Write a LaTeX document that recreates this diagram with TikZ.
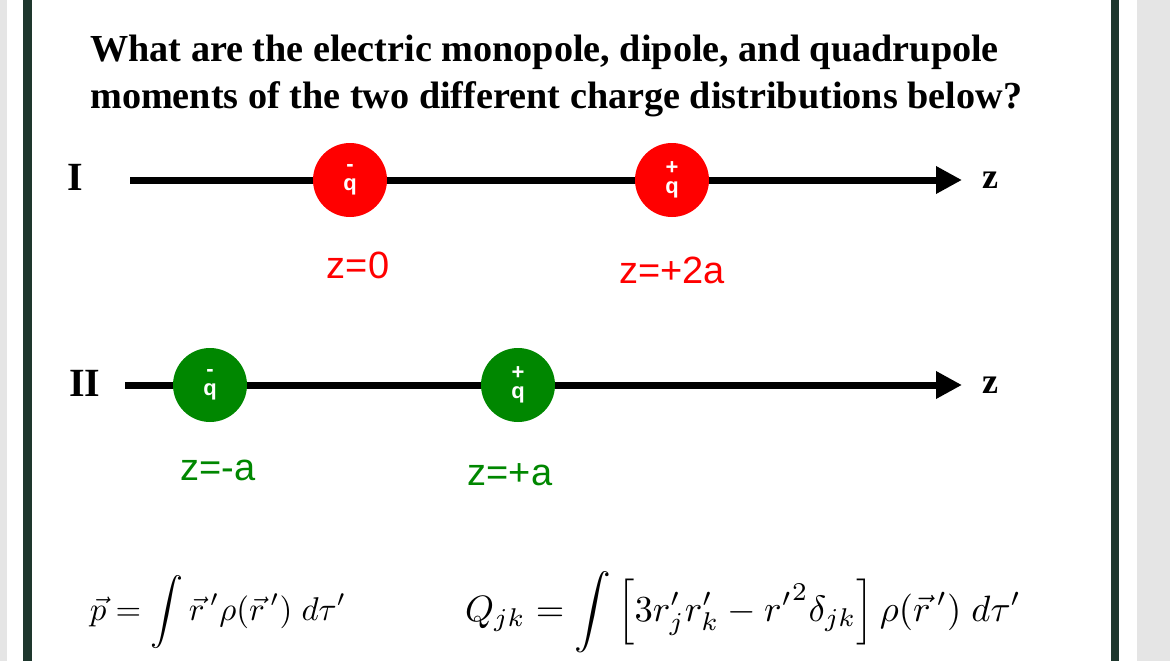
\documentclass[tikz,border=0pt]{standalone}
\usepackage{fontspec}
\usepackage{amsmath}
\setmainfont{Liberation Serif}
\setsansfont{Liberation Sans}
\usetikzlibrary{arrows.meta}
\definecolor{bord}{RGB}{30,55,45}
\definecolor{grn}{RGB}{0,135,0}
\begin{document}
\begin{tikzpicture}[x=1pt,y=-1pt,
  charge/.style={circle,minimum size=74pt,inner sep=0pt,align=center,text=white,font=\sffamily\bfseries\fontsize{22}{19}\selectfont},
  axis/.style={line width=7pt,-{Triangle[length=26pt,width=26pt]}},
  zlab/.style={font=\sffamily\fontsize{38}{42}\selectfont},
  zax/.style={font=\bfseries\fontsize{36}{36}\selectfont},
  roman/.style={font=\bfseries\fontsize{40}{40}\selectfont}]
\useasboundingbox (0,0) rectangle (1170,661);
\fill[gray!20] (0,0) rectangle (7,661);
\fill[gray!20] (1137,0) rectangle (1170,661);
\fill[bord] (23,0) rectangle (32,661);
\fill[bord] (1111,0) rectangle (1119,661);
\node[anchor=north west,inner sep=0pt] (title) at (90,28) {\resizebox{932pt}{!}{\bfseries\fontsize{30}{37}\selectfont\begin{tabular}{@{}l@{}}What are the electric monopole, dipole, and quadrupole\\moments of the two different charge distributions below?\end{tabular}}};
% I
\node[roman] (I) at (75,177) {I};
\coordinate (a1s) at (130,180);
\coordinate (a1e) at (962,180);
\draw[axis] (a1s) -- (a1e);
\node[zax] (z1) at (990,180) {z};
\node[charge,fill=red] (c1) at (350,180) {-\\q};
\node[charge,fill=red] (c2) at (672,180) {+\\q};
\node[zlab,text=red] (l1) at (358,265) {z=0};
\node[zlab,text=red] (l2) at (672,270) {z=+2a};
% II
\node[roman] (II) at (85,383) {II};
\coordinate (a2s) at (125,385);
\coordinate (a2e) at (962,385);
\draw[axis] (a2s) -- (a2e);
\node[zax] (z2) at (990,385) {z};
\node[charge,fill=grn] (c3) at (210,385) {-\\q};
\node[charge,fill=grn] (c4) at (518,385) {+\\q};
\node[zlab,text=grn] (l3) at (218,470) {z=-a};
\node[zlab,text=grn] (l4) at (510,475) {z=+a};
% equations
\node[inner sep=0pt] (e1) at (218,612) {\resizebox{256pt}{!}{$\vec{p}=\displaystyle\int \vec{r}\,'\rho(\vec{r}\,')\;d\tau'$}};
\node[inner sep=0pt] (e2) at (743,612) {\resizebox{556pt}{!}{$Q_{jk}=\displaystyle\int \Big[3r'_jr'_k-{r'}^2\delta_{jk}\Big]\,\rho(\vec{r}\,')\;d\tau'$}};
\end{tikzpicture}
\end{document}
